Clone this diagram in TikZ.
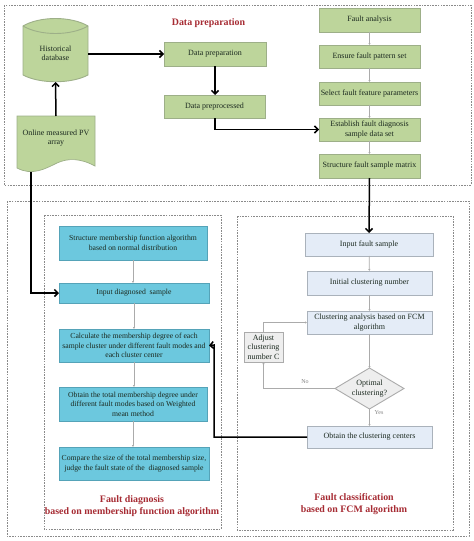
\documentclass[tikz,border=0pt]{standalone}
\usepackage{fontspec}
\setmainfont{Liberation Serif}
\usetikzlibrary{arrows.meta,shapes.geometric,calc}
\definecolor{gfill}{HTML}{BDD59B}
\definecolor{gline}{HTML}{9DAF88}
\definecolor{bfill}{HTML}{6CC8DE}
\definecolor{bline}{HTML}{55A3B8}
\definecolor{lfill}{HTML}{E4ECF7}
\definecolor{lline}{HTML}{AAB2BB}
\definecolor{gyfill}{HTML}{EEEEEE}
\definecolor{gyline}{HTML}{ABABAB}
\definecolor{ttl}{HTML}{A62B33}
\definecolor{frame}{HTML}{8A8A8A}
\definecolor{txt}{HTML}{1C2A20}
\tikzset{
  base/.style={inner sep=0pt,outer sep=0pt,align=center,font=\fontsize{8}{9.4}\selectfont,text=txt,line width=.9pt},
  gbox/.style={base,draw=gline,fill=gfill},
  bbox/.style={base,draw=bline,fill=bfill,font=\fontsize{7.7}{9.4}\selectfont},
  lbox/.style={base,draw=lline,fill=lfill},
  gybox/.style={base,draw=gyline,fill=gyfill},
  plain/.style={base},
  dashframe/.style={draw=frame,line width=.55pt,dash pattern=on 1.6pt off 1.1pt},
  thin link/.style={draw=gyline,line width=.7pt,-{Latex[length=2pt,width=2.4pt]}},
  thick link/.style={draw=black,line width=1.5pt,-{Straight Barb[length=3.5pt,width=7pt,line width=1.5pt]}},
  title/.style={inner sep=0pt,align=center,text=ttl,font=\bfseries\fontsize{9.9}{12}\selectfont},
  small/.style={inner sep=0pt,text=gray,font=\fontsize{6}{7}\selectfont},
}
\begin{document}
\begin{tikzpicture}[x=1pt,y=-1pt]
\useasboundingbox (0,0) rectangle (474,541);
% frames
\draw[dashframe] (4,5) rectangle (471,185);
\draw[dashframe] (7,201) rectangle (469,536);
\draw[dashframe] (44,215) rectangle (221,529);
\draw[dashframe] (237,216) rectangle (453,530);
% database shape
\draw[draw=gline,fill=gfill,line width=.9pt] (23,26) .. controls (40,16) and (71,16) .. (88,26) -- (88,75) .. controls (71,84) and (40,84) .. (23,75) -- cycle;
\draw[draw=gline,line width=.9pt] (23,26) .. controls (40,36) and (71,36) .. (88,26);
\node[plain] (db) at (55.5,53) {Historical\\database};
\coordinate (dbb) at (55.5,82);
\coordinate (dbe) at (88,54);
% document shape
\draw[draw=gline,fill=gfill,line width=.7pt] (17,116) -- (95,116) -- (95,166) .. controls (80,158) and (68,158) .. (57,163) .. controls (45,169) and (32,176) .. (17,168) -- cycle;
\node[plain] (doc) at (56,138) {Online measured PV\\array};
\coordinate (doct) at (56,116);
\coordinate (docb) at (31,172);
% green boxes
\node[gbox,minimum width=102pt,minimum height=24pt] (prep) at (215,54) {Data preparation};
\node[gbox,minimum width=101pt,minimum height=23pt] (pre2) at (214.5,106.5) {Data preprocessed};
\node[gbox,minimum width=101pt,minimum height=24pt] (fa) at (369.5,20) {Fault analysis};
\node[gbox,minimum width=101pt,minimum height=23pt] (fb) at (369.5,56.5) {Ensure fault pattern set};
\node[gbox,minimum width=101pt,minimum height=23pt] (fc) at (369.5,93.5) {Select fault feature parameters};
\node[gbox,minimum width=101pt,minimum height=23pt] (fd) at (369.5,129.5) {Establish fault diagnosis\\sample data set};
\node[gbox,minimum width=101pt,minimum height=24pt] (fe) at (369.5,166) {Structure fault sample matrix};
% blue boxes
\node[bbox,minimum width=148pt,minimum height=34pt] (b1) at (133,243) {Structure membership function algorithm\\based on normal distribution};
\node[bbox,minimum width=150pt,minimum height=20pt] (b2) at (134,293) {Input diagnosed\ \ sample};
\node[bbox,minimum width=150pt,minimum height=33pt] (b3) at (134,345.5) {Calculate the membership degree of each\\sample cluster under different fault modes and\\each cluster center};
\node[bbox,minimum width=148pt,minimum height=34pt] (b4) at (133,404) {Obtain the total membership degree under\\different fault modes based on Weighted\\mean method};
\node[bbox,minimum width=150pt,minimum height=33pt] (b5) at (134,463.5) {Compare the size of the total membership size,\\judge the fault state of the\ \ diagnosed sample};
% light boxes
\node[lbox,minimum width=128pt,minimum height=23pt] (c1) at (369,244.5) {Input fault sample};
\node[lbox,minimum width=125pt,minimum height=24pt] (c2) at (369.5,283) {Initial clustering number};
\node[lbox,minimum width=125pt,minimum height=23pt] (c3) at (369.5,322.5) {Clustering analysis based on FCM\\algorithm};
\node[gybox,minimum width=39pt,minimum height=30pt] (adj) at (263.5,347) {Adjust\\clustering\\number C};
\node[gybox,shape=diamond,minimum width=69pt,minimum height=41pt,aspect=1.68] (dia) at (369.5,388.5) {Optimal\\clustering?};
\node[lbox,minimum width=125pt,minimum height=22pt] (c4) at (369.5,437) {Obtain the clustering centers};
% thin links
\draw[thin link] (fa) -- (fb);
\draw[thin link] (fb) -- (fc);
\draw[thin link] (fc) -- (fd);
\draw[thin link] (fd) -- (fe);
\draw[thin link] (b1) -- (b1 |- b2.north);
\draw[thin link] (b2) -- (b2 |- b3.north);
\draw[thin link] (b3) -- (b3 |- b4.north);
\draw[thin link] (b4) -- (b4 |- b5.north);
\draw[thin link] (c1) -- (c2);
\draw[thin link] (c2) -- (c3);
\draw[thin link] (c3) -- (dia);
\draw[thin link] (dia) -- (c4);
\draw[thin link] (dia.west) -| (adj.south);
\draw[thin link] (adj.north) |- (c3.west);
\node[small] (no) at (305,382) {No};
\node[small] (yes) at (379,413) {Yes};
% thick links
\draw[thick link] (doct) -- (dbb);
\draw[thick link] (dbe) -- (prep.west);
\draw[thick link] (prep.south) -- (pre2.north -| prep.south);
\draw[thick link] (pre2.south -| prep.south) |- (fd.west);
\draw[thick link] (fe.south) -- (c1.north);
\draw[thick link] (docb) |- (b2.west);
\draw[thick link] (c4.west) -| (214,345) -- (b3.east);
% titles
\node[title] (t1) at (208.5,23) {Data preparation};
\node[title] (t2) at (132,506) {Fault diagnosis\\based on membership function algorithm};
\node[title] (t3) at (354,504) {Fault classification\\based on FCM algorithm};
\end{tikzpicture}
\end{document}
